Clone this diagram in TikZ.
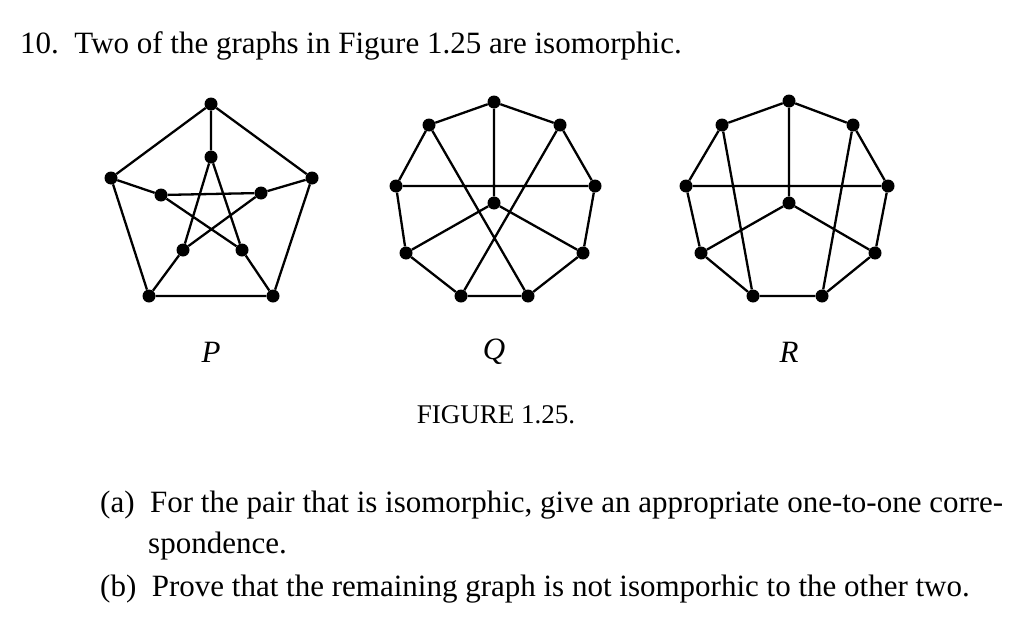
\documentclass[tikz,border=0pt]{standalone}
\usepackage{fontspec}
\setmainfont{Liberation Serif}
\begin{document}
\begin{tikzpicture}[x=1pt,y=-1pt,
  v/.style={circle,fill=black,inner sep=0pt,minimum size=13pt},
  e/.style={line width=2.3pt},
  txt/.style={anchor=base west,inner sep=0pt,font=\fontsize{31}{36}\selectfont}]
\useasboundingbox (0,0) rectangle (1024,634);
\node[txt] (t1) at (20,54) {10.\ \ Two of the graphs in Figure 1.25 are isomorphic.};
% P
\foreach \n/\x/\y in {p1/211/104,p2/111/178,p3/312/178,p4/149/296,p5/273/296,
  q1/211/157,q2/161/195,q3/261/193,q4/183/250,q5/242/250}
  \node[v] (\n) at (\x,\y) {};
\draw[e] (p1)--(p2)--(p4)--(p5)--(p3)--(p1);
\draw[e] (p1)--(q1) (p2)--(q2) (p3)--(q3) (p4)--(q4) (p5)--(q5);
\draw[e] (q1)--(q4)--(q3)--(q2)--(q5)--(q1);
% Q
\foreach \n/\x/\y in {a1/494/102,a2/560/125,a3/595/186,a4/583/253,a5/528/296,a6/461/296,a7/406/253,a8/396/186,a9/429/125,ac/494/203}
  \node[v] (\n) at (\x,\y) {};
\draw[e] (a1)--(a2)--(a3)--(a4)--(a5)--(a6)--(a7)--(a8)--(a9)--(a1);
\draw[e] (a1)--(ac) (a8)--(a3) (a9)--(a5) (a2)--(a6) (ac)--(a7) (ac)--(a4);
% R
\foreach \n/\x/\y in {b1/789/101,b2/853/125,b3/888/186,b4/875/253,b5/822/296,b6/753/296,b7/701/253,b8/686/186,b9/722/125,bc/789/203}
  \node[v] (\n) at (\x,\y) {};
\draw[e] (b1)--(b2)--(b3)--(b4)--(b5)--(b6)--(b7)--(b8)--(b9)--(b1);
\draw[e] (b1)--(bc) (b8)--(b3) (b9)--(b6) (b2)--(b5) (bc)--(b7) (bc)--(b4);
\node[font=\fontsize{31}{36}\selectfont\itshape] (lp) at (211,352) {P};
\node[font=\fontsize{31}{36}\selectfont\itshape] (lq) at (494,352) {Q};
\node[font=\fontsize{31}{36}\selectfont\itshape] (lr) at (789,352) {R};
\node[font=\fontsize{27}{31}\selectfont] (fig) at (496,415) {FIGURE 1.25.};
\node[txt] (a) at (100,512) {(a)\ \ For the pair that is isomorphic, give an appropriate one-to-one corre-};
\node[txt] (a2t) at (148,553) {spondence.};
\node[txt] (b) at (100,596) {(b)\ \ Prove that the remaining graph is not isomporhic to the other two.};
\end{tikzpicture}
\end{document}
